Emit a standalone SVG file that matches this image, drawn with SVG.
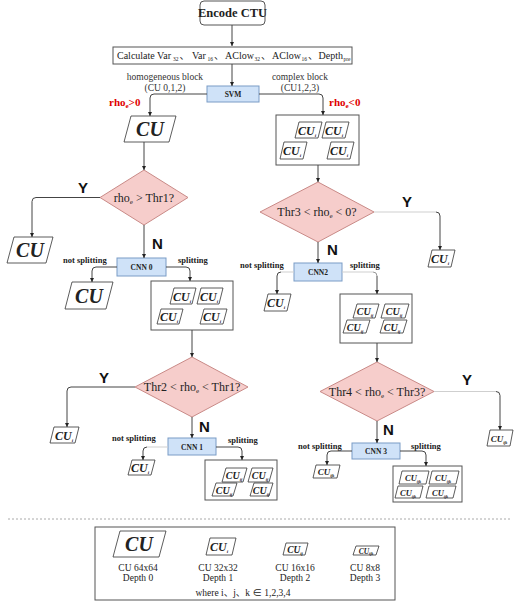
<svg xmlns="http://www.w3.org/2000/svg" width="515" height="604" viewBox="0 0 515 604">
<defs>
<marker id="ah" viewBox="0 0 6 6" refX="6" refY="3" markerWidth="4" markerHeight="4" orient="auto"><path d="M0,0 L6,3 L0,6 z" fill="#222"/></marker>
<style>
text{font-family:"Liberation Serif","Times New Roman","Noto Sans CJK SC",serif;fill:#222}
.box{fill:#fff;stroke:#555;stroke-width:1}
.nn{fill:#cfe2f8;stroke:#7a9cc6;stroke-width:1}
.dia{fill:#f6cdcb;stroke:#c98a87;stroke-width:1}
.pg{fill:#fff;stroke:#333;stroke-width:0.8}
.c{fill:none;stroke:#444;stroke-width:1;marker-end:url(#ah)}
.lt{fill:none;stroke:#cfcfcf;stroke-width:1}
.cu{font-weight:bold;font-style:italic}
.yn{font-family:"Liberation Sans",Arial,sans-serif;font-weight:bold;font-size:15px;fill:#111}
.sp{font-weight:bold;font-size:8.5px}
.red{fill:#e00000;font-weight:bold;font-size:11px}
.lab{font-size:9.5px;fill:#333}
.dt{font-size:12px;text-anchor:middle}
.nt{font-weight:bold;font-size:7.5px;text-anchor:middle}
.lg{font-size:9.5px;text-anchor:middle}
.cm{font-size:10px}
.cs{font-size:5.5px}
</style>
</defs>

<g id="encode">
<rect x="200" y="1" width="65" height="24" rx="4" class="box"/>
<text x="232.5" y="17" text-anchor="middle" font-weight="bold" font-size="12.5">Encode CTU</text>
</g>

<g id="calc">
<rect x="113" y="47" width="239" height="17" class="box"/>
<text x="117" y="59" class="cm">Calculate Var</text>
<text x="173" y="61" class="cs">32</text>
<text x="179.5" y="59" class="cm">、</text>
<text x="192" y="59" class="cm">Var</text>
<text x="207.5" y="61" class="cs">16</text>
<text x="214" y="59" class="cm">、</text>
<text x="225" y="59" class="cm">AClow</text>
<text x="254.5" y="61" class="cs">32</text>
<text x="261" y="59" class="cm">、</text>
<text x="272" y="59" class="cm">AClow</text>
<text x="301.5" y="61" class="cs">16</text>
<text x="308" y="59" class="cm">、</text>
<text x="318.5" y="59" class="cm">Depth</text>
<text x="343.5" y="61" class="cs">pre</text>
</g>

<g id="svm">
<rect x="207" y="86" width="52" height="16" class="nn"/>
<text x="233" y="97" class="nt">SVM</text>
</g>

<g id="labels-top">
<text x="165" y="80" class="lab" text-anchor="middle">homogeneous block</text>
<text x="165" y="91" class="lab" text-anchor="middle">(CU 0,1,2)</text>
<text x="300" y="80" class="lab" text-anchor="middle">complex block</text>
<text x="300" y="91" class="lab" text-anchor="middle">(CU1,2,3)</text>
<text x="109" y="106" class="red">rho<tspan font-size="7" dy="2">e</tspan><tspan dy="-2">&gt;0</tspan></text>
<text x="329" y="106" class="red">rho<tspan font-size="7" dy="2">e</tspan><tspan dy="-2">&lt;0</tspan></text>
</g>

<g id="cu-left">
<polygon points="131,116 176,116 169,142 124,142" class="pg"/>
<text x="150" y="136" class="cu" font-size="20" text-anchor="middle">CU</text>
</g>

<g id="complex-box">
<rect x="276" y="115" width="83" height="50" class="box"/>
<polygon points="299,122 322,122 318,138 295,138" class="pg"/>
<text x="307" y="135" class="cu" font-size="12" text-anchor="middle">CU<tspan font-size="5" dy="2">i</tspan></text>
<polygon points="326,122 349,122 345,138 322,138" class="pg"/>
<text x="334" y="135" class="cu" font-size="12" text-anchor="middle">CU<tspan font-size="5" dy="2">i</tspan></text>
<polygon points="284,142 307,142 303,159 280,159" class="pg"/>
<text x="292" y="155" class="cu" font-size="12" text-anchor="middle">CU<tspan font-size="5" dy="2">i</tspan></text>
<polygon points="331,142 354,142 350,159 327,159" class="pg"/>
<text x="339" y="155" class="cu" font-size="12" text-anchor="middle">CU<tspan font-size="5" dy="2">i</tspan></text>
</g>

<g id="d1">
<polygon points="144,170 188,197.5 144,225 100,197.5" class="dia"/>
<text x="144" y="202" class="dt">rho<tspan font-size="7" dy="2">e</tspan><tspan dy="-2"> &gt; Thr1?</tspan></text>
</g>

<g id="cu-d1y">
<polygon points="14,237 53,237 46,263 7,263" class="pg"/>
<text x="30" y="257" class="cu" font-size="20" text-anchor="middle">CU</text>
</g>

<g id="cnn0">
<rect x="117" y="258" width="49" height="18" class="nn"/>
<text x="141.5" y="270" class="nt">CNN 0</text>
</g>

<g id="cu-cnn0">
<polygon points="72,282 113,282 106,309 65,309" class="pg"/>
<text x="89" y="303" class="cu" font-size="20" text-anchor="middle">CU</text>
</g>

<g id="box-cnn0">
<rect x="151" y="281" width="82" height="49" class="box"/>
<polygon points="174,288 196,288 192,304 170,304" class="pg"/>
<text x="182" y="301" class="cu" font-size="12" text-anchor="middle">CU<tspan font-size="5" dy="2">i</tspan></text>
<polygon points="201,288 223,288 219,304 197,304" class="pg"/>
<text x="209" y="301" class="cu" font-size="12" text-anchor="middle">CU<tspan font-size="5" dy="2">i</tspan></text>
<polygon points="161,309 183,309 179,324 157,324" class="pg"/>
<text x="169" y="321" class="cu" font-size="12" text-anchor="middle">CU<tspan font-size="5" dy="2">i</tspan></text>
<polygon points="204,309 227,309 223,324 200,324" class="pg"/>
<text x="212" y="321" class="cu" font-size="12" text-anchor="middle">CU<tspan font-size="5" dy="2">i</tspan></text>
</g>

<g id="d2">
<polygon points="192,357 248,387 192,417 135,387" class="dia"/>
<text x="192" y="391" class="dt">Thr2 &lt; rho<tspan font-size="7" dy="2">e</tspan><tspan dy="-2"> &lt; Thr1?</tspan></text>
</g>

<g id="cu-d2y">
<polygon points="54,427 79,427 75,443 50,443" class="pg"/>
<text x="64" y="440" class="cu" font-size="12" text-anchor="middle">CU<tspan font-size="5" dy="2">i</tspan></text>
</g>

<g id="cnn1">
<rect x="168" y="438" width="48" height="17" class="nn"/>
<text x="192" y="449.5" class="nt">CNN 1</text>
</g>

<g id="cu-cnn1">
<polygon points="132,460 155,460 151,475 128,475" class="pg"/>
<text x="140" y="472" class="cu" font-size="12" text-anchor="middle">CU<tspan font-size="5" dy="2">i</tspan></text>
</g>

<g id="box-cnn1">
<rect x="205" y="460" width="72" height="40" class="box"/>
<polygon points="226,468 247,468 243,482 222,482" class="pg"/>
<text x="234" y="479" class="cu" font-size="10" text-anchor="middle">CU<tspan font-size="4.5" dy="2">ij</tspan></text>
<polygon points="252,468 273,468 269,482 248,482" class="pg"/>
<text x="260" y="479" class="cu" font-size="10" text-anchor="middle">CU<tspan font-size="4.5" dy="2">ij</tspan></text>
<polygon points="216,483 237,483 233,496 212,496" class="pg"/>
<text x="224" y="493.5" class="cu" font-size="10" text-anchor="middle">CU<tspan font-size="4.5" dy="2">ij</tspan></text>
<polygon points="254,483 273,483 269,496 250,496" class="pg"/>
<text x="261" y="493.5" class="cu" font-size="10" text-anchor="middle">CU<tspan font-size="4.5" dy="2">ij</tspan></text>
</g>

<g id="d3">
<polygon points="318,182 374,212 318,242 260,212" class="dia"/>
<text x="317" y="216" class="dt">Thr3 &lt; rho<tspan font-size="7" dy="2">e</tspan><tspan dy="-2"> &lt; 0?</tspan></text>
</g>

<g id="cu-d3y">
<polygon points="432,250 455,250 451,267 428,267" class="pg"/>
<text x="440" y="263" class="cu" font-size="12" text-anchor="middle">CU<tspan font-size="5" dy="2">i</tspan></text>
</g>

<g id="cnn2">
<rect x="294" y="263" width="48" height="18" class="nn"/>
<text x="318" y="275" class="nt">CNN2</text>
</g>

<g id="cu-cnn2">
<polygon points="268,294 291,294 287,311 264,311" class="pg"/>
<text x="276" y="307" class="cu" font-size="12" text-anchor="middle">CU<tspan font-size="5" dy="2">i</tspan></text>
</g>

<g id="box-cnn2">
<rect x="340" y="294" width="72" height="49" class="box"/>
<polygon points="357,304 379,304 375,318 353,318" class="pg"/>
<text x="365" y="315" class="cu" font-size="10" text-anchor="middle">CU<tspan font-size="4.5" dy="2">ij</tspan></text>
<polygon points="385,304 409,304 405,318 381,318" class="pg"/>
<text x="394" y="315" class="cu" font-size="10" text-anchor="middle">CU<tspan font-size="4.5" dy="2">ij</tspan></text>
<polygon points="347,320 370,320 366,333 343,333" class="pg"/>
<text x="355" y="330.5" class="cu" font-size="10" text-anchor="middle">CU<tspan font-size="4.5" dy="2">ij</tspan></text>
<polygon points="384,320 407,320 403,333 380,333" class="pg"/>
<text x="392" y="330.5" class="cu" font-size="10" text-anchor="middle">CU<tspan font-size="4.5" dy="2">ij</tspan></text>
</g>

<g id="d4">
<polygon points="377,362 434,391.5 377,421 320,391.5" class="dia"/>
<text x="377" y="396" class="dt">Thr4 &lt; rho<tspan font-size="7" dy="2">e</tspan><tspan dy="-2"> &lt; Thr3?</tspan></text>
</g>

<g id="cu-d4y">
<polygon points="490,430 513,430 510,446 487,446" class="pg"/>
<text x="499" y="441.5" class="cu" font-size="9" text-anchor="middle">CU<tspan font-size="4" dy="2">ijk</tspan></text>
</g>

<g id="cnn3">
<rect x="352" y="443" width="48" height="16" class="nn"/>
<text x="376" y="454" class="nt">CNN 3</text>
</g>

<g id="cu-cnn3">
<polygon points="316,465 340,465 337,478 313,478" class="pg"/>
<text x="326" y="475" class="cu" font-size="9" text-anchor="middle">CU<tspan font-size="4" dy="2">ijk</tspan></text>
</g>

<g id="box-cnn3">
<rect x="393" y="466" width="69" height="36" class="box"/>
<polygon points="402,471 429,471 426,484 399,484" class="pg"/>
<text x="413" y="481" class="cu" font-size="8.5" text-anchor="middle">CU<tspan font-size="4" dy="2">ijk</tspan></text>
<polygon points="432,471 459,471 456,484 429,484" class="pg"/>
<text x="443" y="481" class="cu" font-size="8.5" text-anchor="middle">CU<tspan font-size="4" dy="2">ijk</tspan></text>
<polygon points="398,486 423,486 420,498 395,498" class="pg"/>
<text x="408" y="495.5" class="cu" font-size="8.5" text-anchor="middle">CU<tspan font-size="4" dy="2">ijk</tspan></text>
<polygon points="429,486 456,486 453,498 426,498" class="pg"/>
<text x="440" y="495.5" class="cu" font-size="8.5" text-anchor="middle">CU<tspan font-size="4" dy="2">ijk</tspan></text>
</g>

<g id="branch-labels">
<text x="78" y="193" class="yn">Y</text>
<text x="152" y="249" class="yn">N</text>
<text x="63" y="263" class="sp">not splitting</text>
<text x="178" y="263" class="sp">splitting</text>
<text x="99" y="383" class="yn">Y</text>
<text x="199" y="432" class="yn">N</text>
<text x="112" y="441" class="sp">not splitting</text>
<text x="228" y="443" class="sp">splitting</text>
<text x="402" y="207" class="yn">Y</text>
<text x="327" y="255" class="yn">N</text>
<text x="240" y="268" class="sp">not splitting</text>
<text x="350" y="268" class="sp">splitting</text>
<text x="462" y="385" class="yn">Y</text>
<text x="383" y="435" class="yn">N</text>
<text x="298" y="449" class="sp">not splitting</text>
<text x="411" y="449" class="sp">splitting</text>
</g>

<g id="connectors">
<path d="M232,25 V46" class="c"/>
<path d="M232,64 V86" class="c"/>
<path d="M207,94 H154 Q150,94 150,98 V116" class="c"/>
<path d="M259,94 H319 Q323,94 323,98 V115" class="c"/>
<path d="M144,142 V170" class="c" stroke="#bbb"/>
<path d="M100,197.5 H36 Q32,197.5 32,201.5 V237" class="c"/>
<path d="M144,225 V258" class="c"/>
<path d="M117,267 H96 Q92,267 92,271 V282" class="c"/>
<path d="M166,267 H186 Q190,267 190,271 V281" class="c"/>
<path d="M192,330 V357" class="c"/>
<path d="M135,387 H71 Q67,387 67,391 V427" class="c"/>
<path d="M192,417 V438" class="c"/>
<path d="M168,447 H147" class="lt"/>
<path d="M147,447 Q143,447 143,451 V460" class="c"/>
<path d="M216,447 H238 Q242,447 242,451 V460" class="c"/>
<path d="M318,165 V182" class="c"/>
<path d="M374,212 H436" class="lt"/>
<path d="M436,212 Q440,212 440,216 V250" class="c"/>
<path d="M318,242 V263" class="c"/>
<path d="M294,272 H281" class="lt"/>
<path d="M281,272 Q277,272 277,276 V294" class="c"/>
<path d="M342,272 H373" class="lt"/>
<path d="M373,272 Q377,272 377,276" fill="none" stroke="#999" stroke-width="1"/>
<path d="M377,276 V294" class="c" stroke="#ccc"/>
<path d="M377,343 V362" class="c" stroke="#bbb"/>
<path d="M434,391.5 H496" class="lt" stroke="#eee"/>
<path d="M496,391.5 Q500,391.5 500,395.5 V430" class="c"/>
<path d="M377,421 V443" class="c" stroke="#999"/>
<path d="M352,451 H331 Q327,451 327,455 V465" class="c"/>
<path d="M400,451 H422 Q426,451 426,455 V466" class="c"/>
</g>

<line x1="8" y1="519" x2="510" y2="519" stroke="#aaa" stroke-width="1" stroke-dasharray="2,2"/>

<g id="legend">
<rect x="95" y="527" width="300" height="73" class="box"/>
<polygon points="120,531 166,531 159,557 113,557" class="pg"/>
<text x="139" y="551" class="cu" font-size="20" text-anchor="middle">CU</text>
<text x="138" y="571" class="lg">CU 64x64</text>
<text x="138" y="581" class="lg">Depth 0</text>
<polygon points="210,538 236,538 232,555 206,555" class="pg"/>
<text x="219" y="551" class="cu" font-size="12" text-anchor="middle">CU<tspan font-size="5" dy="2">i</tspan></text>
<text x="218" y="571" class="lg">CU 32x32</text>
<text x="218" y="581" class="lg">Depth 1</text>
<polygon points="286,543 308,543 305,555 283,555" class="pg"/>
<text x="295" y="553" class="cu" font-size="9.5" text-anchor="middle">CU<tspan font-size="4.5" dy="1.5">ij</tspan></text>
<text x="295" y="571" class="lg">CU 16x16</text>
<text x="295" y="581" class="lg">Depth 2</text>
<polygon points="356,546 379,546 376,555 353,555" class="pg"/>
<text x="366" y="553.5" class="cu" font-size="7.5" text-anchor="middle">CU<tspan font-size="4" dy="1.5">ijk</tspan></text>
<text x="365" y="571" class="lg">CU 8x8</text>
<text x="365" y="581" class="lg">Depth 3</text>
<text x="243" y="596" class="lg" font-size="8.5">where i、j、k ∈ 1,2,3,4</text>
</g>
</svg>
